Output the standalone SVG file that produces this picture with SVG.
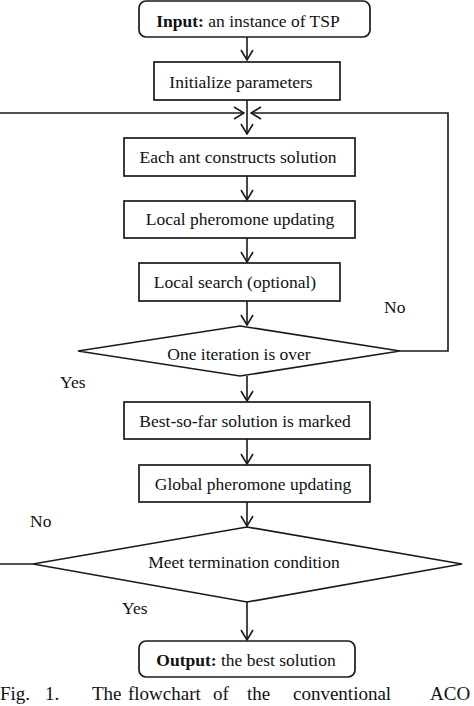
<svg xmlns="http://www.w3.org/2000/svg" width="474" height="706" viewBox="0 0 474 706" font-family="'Liberation Serif', 'DejaVu Serif', serif">
<style>
.box{fill:#fff;stroke:#1a1a1a;stroke-width:1.7}
.ln{fill:none;stroke:#1a1a1a;stroke-width:1.6}
.t{font-family:'Liberation Serif','DejaVu Serif',serif;fill:#111;font-size:17.5px}
.c{text-anchor:middle}
.cap{font-family:'Liberation Serif','DejaVu Serif',serif;fill:#111;font-size:19px}
</style>
<defs>
<marker id="arr" markerUnits="userSpaceOnUse" viewBox="0 0 12 14" refX="11" refY="7" markerWidth="12" markerHeight="14" orient="auto">
<path d="M1,1 L11,7 L1,13" fill="none" stroke="#1a1a1a" stroke-width="1.6"/>
</marker>
</defs>
<rect width="474" height="706" fill="#fff"/>
<g id="connectors">
<line class="ln" x1="247" y1="37" x2="247" y2="60" marker-end="url(#arr)"/>
<line class="ln" x1="247" y1="100" x2="247" y2="134" marker-end="url(#arr)"/>
<line class="ln" x1="0" y1="113" x2="244" y2="113" marker-end="url(#arr)"/>
<polyline class="ln" points="400,351 448,351 448,113 251,113" marker-end="url(#arr)"/>
<line class="ln" x1="247" y1="176" x2="247" y2="200" marker-end="url(#arr)"/>
<line class="ln" x1="247" y1="238" x2="247" y2="262" marker-end="url(#arr)"/>
<line class="ln" x1="247" y1="301" x2="247" y2="325" marker-end="url(#arr)"/>
<line class="ln" x1="247" y1="376" x2="247" y2="401" marker-end="url(#arr)"/>
<line class="ln" x1="247" y1="439" x2="247" y2="464" marker-end="url(#arr)"/>
<line class="ln" x1="247" y1="502" x2="247" y2="526" marker-end="url(#arr)"/>
<line class="ln" x1="33" y1="564" x2="0" y2="564"/>
<line class="ln" x1="247" y1="602" x2="247" y2="640" marker-end="url(#arr)"/>
<text class="t" x="384" y="313">No</text>
<text class="t" x="60" y="388">Yes</text>
<text class="t" x="30" y="527">No</text>
<text class="t" x="122" y="614">Yes</text>
</g>
<g id="input">
<rect class="box" x="139" y="1" width="231" height="36" rx="7"/>
<text class="t c" x="248" y="27"><tspan font-weight="bold">Input:</tspan> an instance of TSP</text>
</g>
<g id="init">
<rect class="box" x="154" y="62" width="186" height="38"/>
<text class="t c" x="241" y="88">Initialize parameters</text>
</g>
<g id="construct">
<rect class="box" x="124" y="138" width="231" height="38"/>
<text class="t c" x="238" y="163">Each ant constructs solution</text>
</g>
<g id="localpher">
<rect class="box" x="124" y="201" width="231" height="37"/>
<text class="t c" x="240" y="225">Local pheromone updating</text>
</g>
<g id="localsearch">
<rect class="box" x="139" y="263" width="201" height="38"/>
<text class="t c" x="235" y="288">Local search (optional)</text>
</g>
<g id="iteration">
<polygon class="box" points="240,326 400,351 240,376 78,351"/>
<text class="t c" x="239" y="360">One iteration is over</text>
</g>
<g id="bestsofar">
<rect class="box" x="124" y="402" width="246" height="37"/>
<text class="t c" x="245" y="427">Best-so-far solution is marked</text>
</g>
<g id="global">
<rect class="box" x="139" y="465" width="231" height="37"/>
<text class="t c" x="253" y="490">Global pheromone updating</text>
</g>
<g id="termination">
<polygon class="box" points="247,527 462,564 247,602 33,564"/>
<text class="t c" x="244" y="568">Meet termination condition</text>
</g>
<g id="output">
<rect class="box" x="139" y="641" width="216" height="36" rx="7"/>
<text class="t c" x="246" y="666"><tspan font-weight="bold">Output:</tspan> the best solution</text>
</g>
<g id="caption">
<text class="cap" x="0" y="700">Fig.</text>
<text class="cap" x="45" y="700">1.</text>
<text class="cap" x="92" y="700">The</text>
<text class="cap" x="128" y="700">flowchart</text>
<text class="cap" x="213" y="700">of</text>
<text class="cap" x="247" y="700">the</text>
<text class="cap" x="293" y="700">conventional</text>
<text class="cap" x="430" y="700">ACO</text>
</g>
</svg>
